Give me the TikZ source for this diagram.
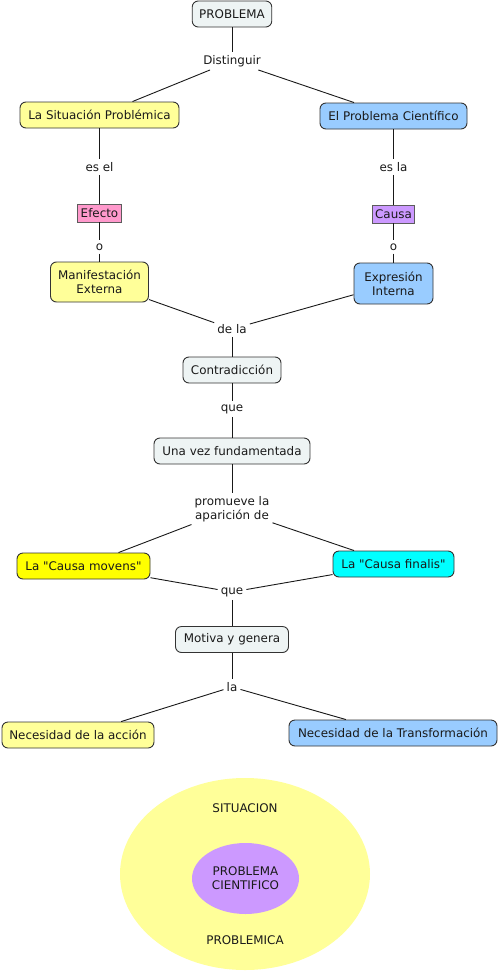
\documentclass[tikz,border=0pt]{standalone}
\usepackage{fontspec}
\setmainfont{DejaVu Sans}
\newfontfamily\plainf{DejaVu Sans}
\usetikzlibrary{shapes.geometric}
\definecolor{txt}{HTML}{1A1A1A}
\definecolor{bord}{HTML}{333333}
\definecolor{grayfill}{HTML}{EEF4F4}
\definecolor{yel}{HTML}{FFFF99}
\definecolor{blu}{HTML}{99CCFF}
\definecolor{pnk}{HTML}{FF99CC}
\definecolor{pur}{HTML}{CC99FF}
\definecolor{movens}{HTML}{FFFF00}
\definecolor{finalis}{HTML}{00FFFF}
\begin{document}
\begin{tikzpicture}[x=1pt,y=-1pt,
  font=\plainf\fontsize{11.9}{14}\selectfont, text=txt,
  concept/.style={draw=bord, rounded corners=6pt, line width=0.9pt, inner xsep=7pt, inner ysep=3pt, minimum height=26pt, align=center},
  small/.style={draw=bord!80, line width=0.9pt, inner xsep=3pt, inner ysep=1pt, minimum height=18pt},
  lbl/.style={inner sep=3pt, align=center},
  conn/.style={draw=black!90, line width=0.9pt}]
\useasboundingbox (0,0) rectangle (500,972);
% concepts
\node[concept, fill=grayfill] (problema) at (232,14) {PROBLEMA};
\node[concept, fill=yel, minimum width=159pt] (sitprob) at (99.5,115) {La Situación Problémica};
\node[concept, fill=blu, minimum width=147pt] (probcien) at (393.5,116) {El Problema Científico};
\node[small, fill=pnk] (efecto) at (99.5,213) {Efecto};
\node[small, fill=pur] (causa) at (393.5,214) {Causa};
\node[concept, fill=yel, minimum width=98pt, minimum height=40pt] (manif) at (99.5,282) {Manifestación\\Externa};
\node[concept, fill=blu, minimum width=79pt, minimum height=41pt] (expr) at (393.5,283.5) {Expresión\\ Interna};
\node[concept, fill=grayfill, minimum width=98pt] (contra) at (232,370) {Contradicción};
\node[concept, fill=grayfill, minimum width=156pt] (unavez) at (232,451) {Una vez fundamentada};
\node[concept, fill=movens, minimum width=133pt] (movens) at (83.5,566) {La "Causa movens"};
\node[concept, fill=finalis, minimum width=121pt] (finalis) at (393.5,564) {La "Causa finalis"};
\node[concept, fill=grayfill, minimum width=113pt] (motiva) at (232,639.5) {Motiva y genera};
\node[concept, fill=yel, minimum width=152pt] (necacc) at (78,735) {Necesidad de la acción};
\node[concept, fill=blu, minimum width=208pt] (nectra) at (393,733) {Necesidad de la Transformación};
% linking phrases
\node[lbl] (distinguir) at (232,61) {Distinguir};
\node[lbl] (esel) at (99.5,167) {es el};
\node[lbl] (esla) at (393.5,167) {es la};
\node[lbl] (o1) at (99.5,247) {o};
\node[lbl] (o2) at (393.5,247) {o};
\node[lbl] (dela) at (232,329) {de la};
\node[lbl] (que1) at (232,409) {que};
\node[lbl] (promueve) at (232,509) {promueve la\\aparición de};
\node[lbl] (que2) at (232,592) {que};
\node[lbl] (la) at (232,687) {la};
% connectors
\draw[conn] (problema) -- (distinguir);
\draw[conn] (distinguir) -- (sitprob);
\draw[conn] (distinguir) -- (probcien);
\draw[conn] (sitprob) -- (esel);
\draw[conn] (esel) -- (efecto);
\draw[conn] (probcien) -- (esla);
\draw[conn] (esla) -- (causa);
\draw[conn] (efecto) -- (o1);
\draw[conn] (o1) -- (manif);
\draw[conn] (causa) -- (o2);
\draw[conn] (o2) -- (expr);
\draw[conn] (manif) -- (dela);
\draw[conn] (expr) -- (dela);
\draw[conn] (dela) -- (contra);
\draw[conn] (contra) -- (que1);
\draw[conn] (que1) -- (unavez);
\draw[conn] (unavez) -- (promueve);
\draw[conn] (promueve) -- (movens);
\draw[conn] (promueve) -- (finalis);
\draw[conn] (movens) -- (que2);
\draw[conn] (finalis) -- (que2);
\draw[conn] (que2) -- (motiva);
\draw[conn] (motiva) -- (la);
\draw[conn] (la) -- (necacc);
\draw[conn] (la) -- (nectra);
% Venn-like figure
\node[ellipse, fill=yel, minimum width=250pt, minimum height=192pt, inner sep=0pt] (outer) at (245,874) {};
\node[ellipse, fill=pur, minimum width=107pt, minimum height=71pt, inner sep=0pt, align=center] (inner) at (245.5,878.5) {PROBLEMA\\CIENTIFICO};
\node[lbl] (situacion) at (245,808) {SITUACION};
\node[lbl] (problemica) at (245,940) {PROBLEMICA};
\end{tikzpicture}
\end{document}
